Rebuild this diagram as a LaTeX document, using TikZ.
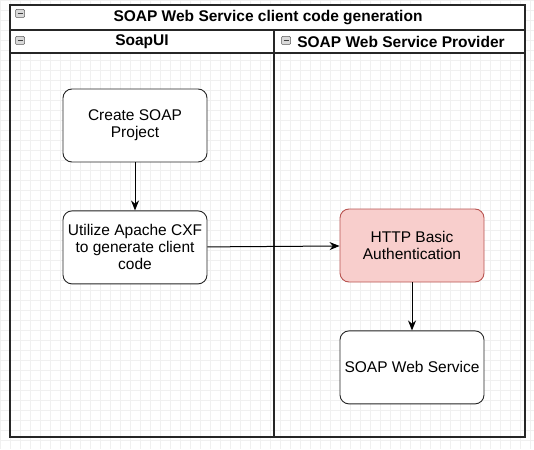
\documentclass[tikz,border=0pt]{standalone}
\usepackage{fontspec}
\setmainfont{Liberation Sans}
\usetikzlibrary{positioning,arrows.meta}
\definecolor{authfill}{HTML}{F8CECC}
\definecolor{authline}{HTML}{B85450}
\definecolor{gridgray}{HTML}{F0F0F0}
\tikzset{
  stepbox/.style={draw=black!85, rounded corners=9pt, minimum width=144pt, minimum height=73pt,
    align=center, font=\fontsize{15.5}{17}\selectfont, fill=white, line width=0.9pt},
  authbox/.style={stepbox, fill=authfill, draw=authline},
  lanetitle/.style={font=\bfseries\fontsize{15.5}{17}\selectfont},
  flow/.style={-{Stealth[length=10pt,width=8pt]}, line width=1pt},
  lane/.style={line width=1.4pt, draw=black!85},
  foldicon/.style={draw=gray!70!black, fill=gray!30, rounded corners=1pt, minimum width=9pt,
    minimum height=8pt, inner sep=0pt, line width=0.5pt,
    path picture={\draw[line width=1pt, black!75] ([xshift=2pt]path picture bounding box.west) -- ([xshift=-2pt]path picture bounding box.east);}}
}
\begin{document}
\begin{tikzpicture}[x=1pt, y=-1pt]
    \useasboundingbox (0,0) rectangle (534,449);
    \fill[white] (0,0) rectangle (534,449);
    \draw[gridgray, line width=0.6pt] (0,0) grid[step=10pt] (534,449);

    % pool and lanes
    \fill[white] (10,5) rectangle (525,53);
    \draw[lane] (10,5) rectangle (525,437);
    \draw[lane] (10,30) -- (525,30);
    \draw[lane] (10,53) -- (525,53);
    \draw[lane] (274,30) -- (274,437);
    \node[lanetitle] (pool) at (268,18) {SOAP Web Service client code generation};
    \node[lanetitle] (soapui) at (142,42) {SoapUI};
    \node[lanetitle] (provider) at (401,42) {SOAP Web Service Provider};
    \node[foldicon] (foldpool) at (20,13.5) {};
    \node[foldicon] (foldsoapui) at (20,40.5) {};
    \node[foldicon] (foldprovider) at (286,40.5) {};

    % steps
    \node[stepbox] (create) at (135,125.5) {Create SOAP\\Project};
    \node[stepbox, below=48pt of create] (generate) {Utilize Apache CXF\\to generate client\\code};
    \node[authbox] (auth) at (412,245.5) {HTTP Basic\\Authentication};
    \node[stepbox, below=48pt of auth] (service) {SOAP Web Service};

    \draw[flow] (create) -- (generate);
    \draw[flow] (generate) -- (auth);
    \draw[flow] (auth) -- (service);
\end{tikzpicture}
\end{document}
